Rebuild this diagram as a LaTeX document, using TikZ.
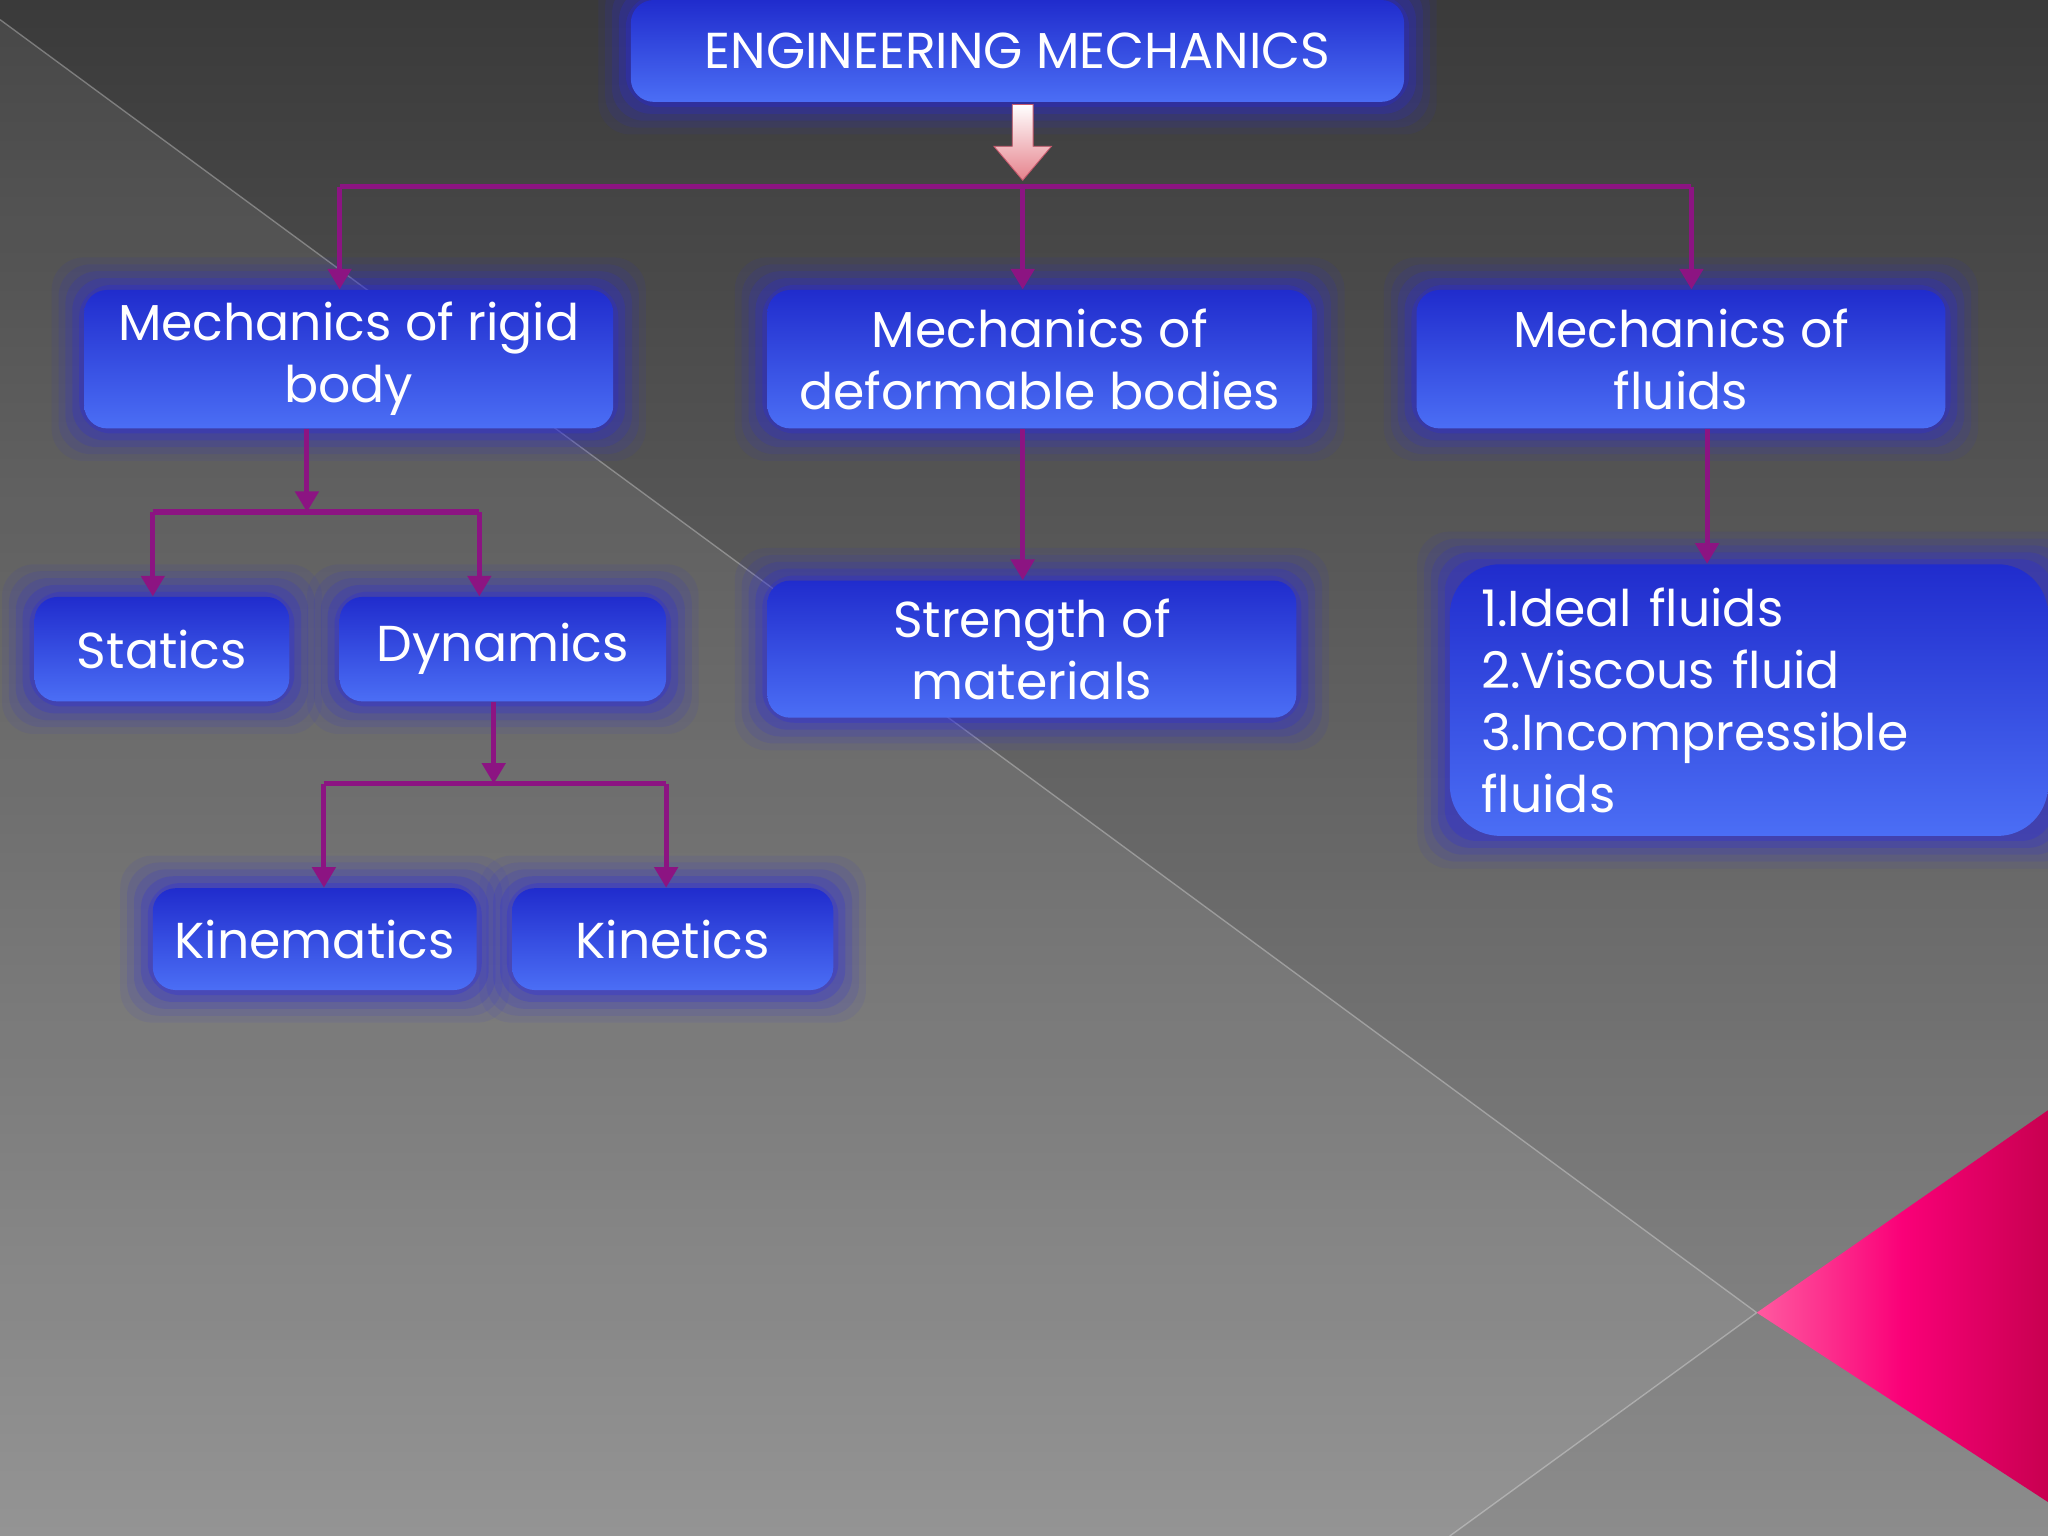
\documentclass[tikz,border=0pt]{standalone}
\usepackage{fontspec}
\setmainfont{Poppins}
\usetikzlibrary{backgrounds,arrows.meta}
\definecolor{bxtop}{RGB}{32,44,205}
\definecolor{bxbot}{RGB}{75,110,245}
\definecolor{conn}{RGB}{140,20,130}
\definecolor{glowc}{RGB}{40,40,230}
\tikzset{
 px/.style={x=0.02cm,y=-0.02cm},
 box/.style={rounded corners=10pt,top color=bxtop,bottom color=bxbot,text=white,
   font=\fontsize{22}{27}\selectfont,align=center,inner sep=0pt},
 con/.style={draw=conn,line width=2.2pt},
 arr/.style={con,-{Triangle[length=9pt,width=10pt]}}
}
\newcommand{\glw}[1]{%
 \foreach \g/\o in {14pt/0.07,11pt/0.1,8pt/0.14,5pt/0.2,2pt/0.25}{
  \fill[glowc,opacity=\o,rounded corners=14pt] ([shift={(-\g,-\g)}]#1.south west) rectangle ([shift={(\g,\g)}]#1.north east);}}
\begin{document}
\begin{tikzpicture}[px]
\useasboundingbox (0,0) rectangle (1568,1176);
\node[box,minimum width=592*0.02cm,minimum height=78*0.02cm,font=\fontsize{22}{26}\selectfont] (top) at (779,39) {ENGINEERING MECHANICS};
\node[box,minimum width=405*0.02cm,minimum height=106*0.02cm] (rig) at (267,275) {Mechanics of rigid\\body};
\node[box,minimum width=417*0.02cm,minimum height=106*0.02cm] (def) at (796,275) {Mechanics of\\deformable bodies};
\node[box,minimum width=405*0.02cm,minimum height=106*0.02cm] (flu) at (1287,275) {Mechanics of\\fluids};
\node[box,minimum width=195*0.02cm,minimum height=80*0.02cm] (sta) at (124,497) {Statics};
\node[box,minimum width=250*0.02cm,minimum height=80*0.02cm] (dyn) at (385,497) {Dynamics};
\node[box,minimum width=405*0.02cm,minimum height=105*0.02cm] (str) at (790,497) {Strength of\\materials};
\node[box,rounded corners=22pt,minimum width=458*0.02cm,minimum height=208*0.02cm,align=left,text width=410*0.02cm] (lst) at (1339,536) {1.Ideal fluids\\2.Viscous fluid\\3.Incompressible\\fluids};
\node[box,minimum width=248*0.02cm,minimum height=78*0.02cm] (kin) at (241,719) {Kinematics};
\node[box,minimum width=246*0.02cm,minimum height=78*0.02cm] (ket) at (515,719) {Kinetics};
\draw[con] (260,143) -- (1295,143);
\draw[arr] (260,143) -- (rig.north -| 260,0);
\draw[arr] (783,143) -- (def.north -| 783,0);
\draw[arr] (1295,143) -- (flu.north -| 1295,0);
\fill[top color=white,bottom color={rgb,255:red,230;green,130;blue,140},draw={rgb,255:red,200;green,90;blue,110}]
 (775,80) -- (791,80) -- (791,112) -- (805,112) -- (783,138) -- (761,112) -- (775,112) -- cycle;
\coordinate (r1) at (235,392);
\draw[arr] (rig.south -| 235,0) -- (r1);
\draw[con] (117,392) -- (367,392);
\draw[arr] (117,392) -- (sta.north -| 117,0);
\draw[arr] (367,392) -- (dyn.north -| 367,0);
\draw[arr] (def.south -| 783,0) -- (str.north -| 783,0);
\draw[arr] (flu.south -| 1307,0) -- (lst.north -| 1307,0);
\coordinate (d1) at (378,600);
\draw[arr] (dyn.south -| 378,0) -- (d1);
\draw[con] (248,600) -- (510,600);
\draw[arr] (248,600) -- (kin.north -| 248,0);
\draw[arr] (510,600) -- (ket.north -| 510,0);
\begin{scope}[on background layer]
\shade[top color={rgb,255:red,58;green,58;blue,58},bottom color={rgb,255:red,140;green,140;blue,140}] (0,0) rectangle (1568,1176);
\fill[white,opacity=0.07] (0,15) -- (1345,1005) -- (1110,1176) -- (0,1176) -- cycle;
\draw[white,opacity=0.3,line width=0.6pt] (0,15) -- (1345,1005) -- (1110,1176);
\shade[left color={rgb,255:red,255;green,90;blue,160},right color={rgb,255:red,200;green,0;blue,80},middle color={rgb,255:red,250;green,0;blue,120}] (1345,1005) -- (1568,850) -- (1568,1150) -- cycle;
\glw{top}\glw{rig}\glw{def}\glw{flu}\glw{sta}\glw{dyn}\glw{str}\glw{lst}\glw{kin}\glw{ket}
\end{scope}
\end{tikzpicture}
\end{document}
